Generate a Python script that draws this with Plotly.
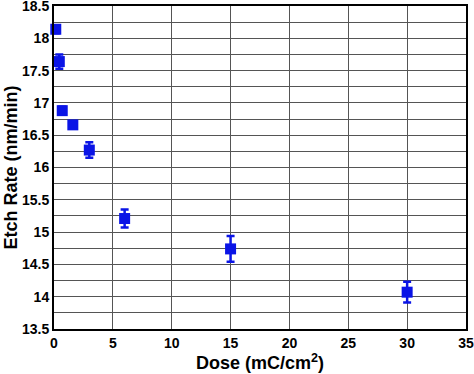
import plotly.graph_objects as go

dose = [0.15, 0.45, 0.7, 1.6, 3, 6, 15, 30]
etch_rate = [18.14, 17.64, 16.88, 16.66, 16.27, 15.21, 14.74, 14.07]
err = [0.06, 0.11, 0.06, 0.05, 0.12, 0.14, 0.2, 0.16]

fig = go.Figure()
fig.add_trace(go.Scatter(
    x=dose, y=etch_rate, mode="markers",
    marker=dict(symbol="square", size=11, color="#0a14e6"),
    error_y=dict(type="data", array=err, visible=True, color="#0a14e6", thickness=2.5, width=4),
    showlegend=False, cliponaxis=False,
))

font_family = "Liberation Sans, Arial, sans-serif"
fig.update_layout(
    width=474, height=374,
    margin=dict(l=54, r=8, t=6, b=45, autoexpand=False),
    plot_bgcolor="white", paper_bgcolor="white",
    font=dict(family=font_family, color="black"),
)
fig.update_xaxes(
    range=[0, 35], dtick=5, tick0=0, automargin=False,
    showgrid=True, gridcolor="#555", gridwidth=1,
    showline=True, linecolor="black", linewidth=2, mirror=True,
    zeroline=False, ticklabeloverflow="allow",
    tickfont=dict(size=14, family=font_family, weight="bold"),
    title=dict(text="<b>Dose (mC/cm<sup>2</sup>)</b>", font=dict(size=18), standoff=2),
)
fig.update_yaxes(
    range=[13.5, 18.5], dtick=0.5, tick0=13.5, automargin=False,
    showgrid=True, gridcolor="#555", gridwidth=1,
    minor=dict(dtick=0.25, showgrid=True, gridcolor="#555"),
    showline=True, linecolor="black", linewidth=2, mirror=True,
    zeroline=False, ticklabeloverflow="allow",
    tickfont=dict(size=14, family=font_family, weight="bold"),
    title=dict(text="<b>Etch Rate (nm/min)</b>", font=dict(size=18), standoff=0),
)
fig.write_html(
    "out.html",
    config={"displayModeBar": False},
    post_script="document.body.style.margin='0';document.body.style.padding='0';document.body.style.overflow='hidden';",
)
